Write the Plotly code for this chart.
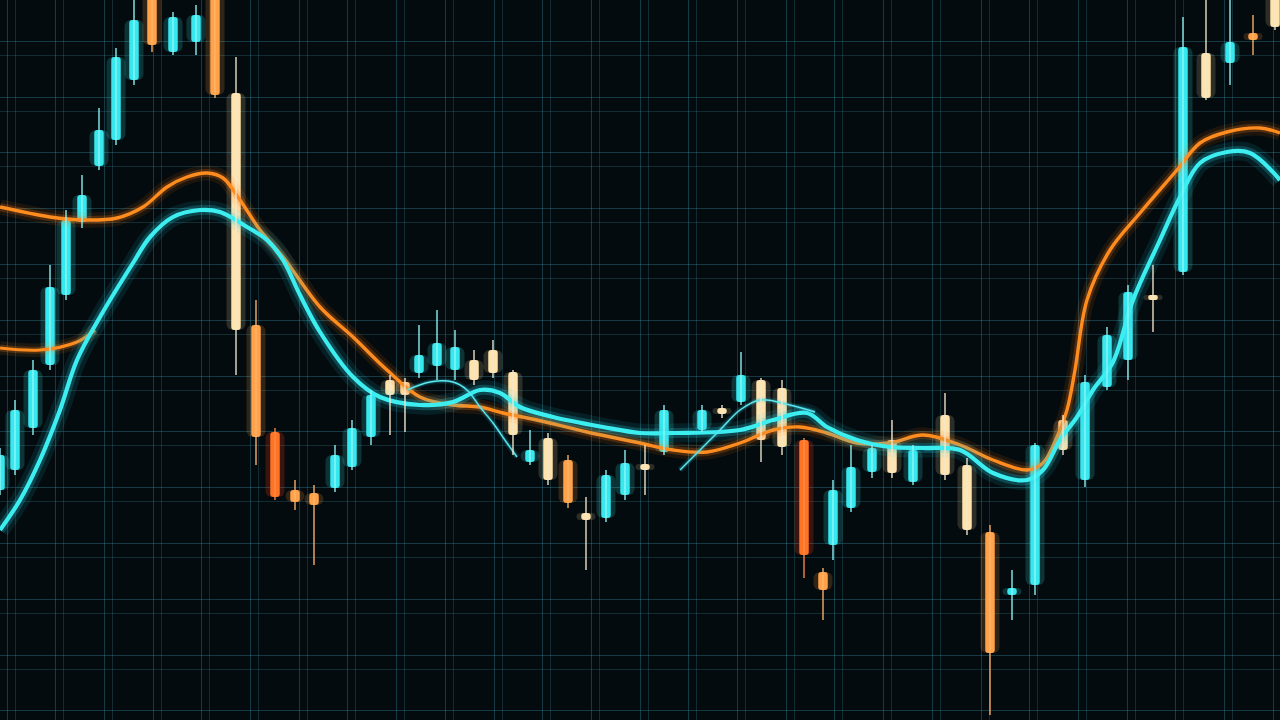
import plotly.graph_objects as go

# ---- candle data (time, open, high, low, close, tone) ----
t = [0.0, 1.5, 3.3, 5.0, 6.6, 8.2, 9.9, 11.6, 13.4, 15.2, 17.3, 19.6, 21.5, 23.6, 25.6, 27.5,
     29.5, 31.4, 33.5, 35.2, 37.1, 39.0, 40.5, 41.9, 43.7, 45.5, 47.4, 49.3, 51.3, 53.0, 54.8,
     56.8, 58.6, 60.6, 62.5, 64.5, 66.4, 70.2, 72.2, 74.1, 76.1, 78.2, 80.4, 82.3, 83.3, 85.1,
     87.2, 89.2, 91.3, 94.5, 96.7, 99.0, 101.2, 103.5, 106.3, 108.5, 110.7, 112.8, 115.3, 118.3,
     120.6, 123.0, 125.3, 127.5]
open_ = [123.0, 125.0, 129.2, 135.5, 142.5, 149.8, 155.4, 158.0, 164.0, 173.0, 166.8, 167.8, 173.0, 162.7, 139.5, 128.8,
         123.0, 122.7, 123.2, 125.3, 128.3, 134.0, 133.8, 134.7, 135.4, 135.0, 136.0, 137.0, 134.8, 125.8, 128.2,
         126.0, 120.7, 120.2, 122.5, 125.6, 126.8, 129.0, 131.2, 131.8, 134.0, 133.2, 128.0, 114.8, 117.5, 121.2,
         124.8, 128.0, 123.8, 130.5, 125.5, 118.8, 112.5, 113.5, 130.0, 124.0, 133.3, 136.0, 142.5, 144.8,
         166.7, 165.7, 168.7, 173.0]
high = [127.2, 132.0, 136.0, 145.5, 151.0, 154.5, 161.2, 167.2, 172.0, 173.5, 170.8, 171.5, 173.5, 166.3, 142.0, 129.2,
        124.0, 123.5, 127.5, 130.0, 133.0, 134.5, 134.2, 139.5, 141.0, 139.0, 137.0, 138.0, 135.0, 129.0, 128.7,
        126.5, 122.3, 125.0, 127.0, 127.5, 131.5, 131.5, 131.5, 136.8, 134.2, 134.0, 128.2, 115.2, 124.0, 127.5,
        127.5, 130.0, 127.5, 132.7, 126.2, 119.5, 115.0, 127.7, 130.5, 134.5, 139.3, 143.5, 145.5, 170.3,
        172.5, 172.5, 170.5, 173.5]
low = [122.5, 124.5, 128.5, 135.0, 142.0, 149.2, 155.0, 157.5, 163.5, 166.8, 166.5, 166.5, 162.2, 134.5, 125.5, 122.0,
       121.0, 115.5, 122.8, 125.0, 127.5, 128.5, 128.8, 134.2, 134.0, 134.0, 133.5, 134.2, 126.5, 125.5, 123.5,
       121.2, 115.0, 119.8, 122.0, 122.5, 126.5, 128.8, 130.2, 131.5, 125.8, 126.5, 114.2, 110.0, 116.0, 120.8,
       124.2, 124.2, 123.5, 124.0, 118.5, 100.5, 110.0, 112.5, 126.5, 123.3, 133.0, 134.0, 138.8, 144.5,
       162.0, 163.5, 166.5, 169.0]
close = [126.5, 131.0, 135.0, 143.3, 150.0, 152.5, 159.0, 166.3, 170.0, 167.5, 170.3, 170.5, 162.5, 139.0, 128.3, 122.3,
         121.8, 121.5, 126.5, 129.2, 132.5, 132.5, 132.5, 136.5, 137.7, 137.3, 134.0, 134.7, 128.5, 127.0, 124.0,
         121.7, 120.0, 124.5, 125.7, 125.0, 131.0, 131.0, 130.6, 134.5, 128.0, 127.3, 116.5, 113.0, 123.0, 125.3,
         127.2, 124.7, 127.0, 124.5, 119.0, 106.7, 113.2, 127.5, 127.0, 133.8, 138.5, 142.8, 142.0, 167.3,
         162.2, 167.8, 168.0, 169.3]
tone = ['c', 'c', 'c', 'c', 'c', 'c', 'c', 'c', 'c', 'o', 'c', 'c', 'o', 'w', 'o', 'r',
        'o', 'o', 'c', 'c', 'c', 'w', 'w', 'c', 'c', 'c', 'w', 'w', 'w', 'c', 'w',
        'o', 'w', 'c', 'c', 'w', 'c', 'c', 'w', 'c', 'w', 'w', 'r', 'o', 'c', 'c',
        'c', 'w', 'c', 'w', 'w', 'o', 'c', 'c', 'w', 'c', 'c', 'c', 'w', 'c',
        'w', 'c', 'o', 'w']

# ---- moving averages ----
ma_slow_t = [0.0, 5.0, 8.3, 11.7, 14.3, 16.7, 18.7, 20.7, 22.3, 24.0, 26.0, 28.3, 32.0, 35.3, 38.7, 42.0,
             45.3, 48.0, 50.3, 53.7, 58.7, 64.0, 67.3, 70.7, 74.0, 77.3, 80.0, 82.7, 85.7, 89.0, 92.3,
             96.0, 99.3, 102.7, 104.3, 105.7, 106.7, 107.5, 108.7, 111.0, 114.0, 117.7, 120.0, 122.7,
             126.0, 128.0]
ma_slow = [151.3, 150.3, 150.0, 150.2, 151.3, 153.3, 154.3, 154.7, 154.2, 152.0, 149.0, 146.3, 141.3, 138.3,
           135.0, 132.3, 131.5, 131.3, 130.7, 130.0, 128.8, 127.7, 127.0, 126.8, 127.7, 129.0, 129.3, 128.7,
           127.7, 127.7, 128.5, 127.5, 126.0, 125.0, 125.7, 128.3, 131.0, 135.0, 142.0, 147.0, 150.7, 155.0,
           157.7, 158.8, 159.2, 158.7]
ma_fast_t = [0.0, 2.0, 4.0, 6.0, 7.7, 10.0, 13.3, 15.0, 17.3, 20.0, 22.0, 24.7, 26.7, 28.3, 30.0, 32.0,
             35.3, 38.0, 42.0, 45.3, 48.0, 50.0, 52.0, 55.3, 60.3, 64.0, 67.3, 74.0, 77.3, 80.7, 82.7,
             85.7, 89.0, 92.3, 96.0, 99.3, 102.7, 104.3, 106.0, 107.7, 109.3, 111.3, 113.3, 116.0, 118.0,
             120.0, 122.7, 125.0, 128.0]
ma_fast = [119.0, 122.0, 126.0, 131.0, 136.0, 140.3, 145.7, 148.3, 150.3, 151.0, 150.8, 149.3, 148.0, 146.0,
           142.5, 138.8, 134.3, 132.3, 131.5, 131.8, 133.0, 132.7, 131.3, 130.3, 129.3, 128.7, 128.7, 129.0,
           130.0, 130.7, 129.3, 128.0, 127.3, 127.2, 127.0, 124.7, 124.0, 125.0, 128.0, 130.3, 133.0, 135.8,
           142.0, 148.0, 152.3, 155.7, 156.8, 156.7, 154.0]
ma_micro_t = [40.7, 43.0, 45.3, 46.7, 48.0, 49.3, 50.7, 51.7, None, 68.0, 70.0, 72.0, 74.0, 76.0, 79.0, 81.5]
ma_micro = [133.0, 133.8, 133.8, 133.0, 131.3, 129.7, 127.7, 126.3, None, 125.0, 127.0, 129.0, 131.0, 132.0,
            131.5, 130.8]
ma_long_t = [0.0, 4.0, 7.7, 9.5]
ma_long = [137.2, 137.0, 137.8, 139.0]

COL = {'c': '#38e8ef', 'o': '#ffa24a', 'r': '#ff7424', 'w': '#ffe3ad'}
WICK = {'c': '#8ff5f7', 'o': '#ffb36a', 'r': '#ff8a4a', 'w': '#f3e6cf'}
GLOW = {'c': 'rgba(56,232,239,0.18)', 'o': 'rgba(255,150,60,0.18)',
        'r': 'rgba(255,60,25,0.22)', 'w': 'rgba(255,225,170,0.16)'}

fig = go.Figure()

# moving average lines with glow
def add_line(xs, ys, color, glow, core_w):
    for w, op in [(core_w * 4.5, 0.10), (core_w * 2.4, 0.22)]:
        fig.add_trace(go.Scatter(x=xs, y=ys, mode='lines', line=dict(color=glow, width=w, shape='spline',
                                 smoothing=1.0), opacity=op, hoverinfo='skip', showlegend=False,
                                 connectgaps=False))
    fig.add_trace(go.Scatter(x=xs, y=ys, mode='lines', line=dict(color=color, width=core_w, shape='spline',
                             smoothing=1.0), hoverinfo='skip', showlegend=False, connectgaps=False))

add_line(ma_long_t, ma_long, '#ff8a1e', '#ff8a1e', 3.0)
add_line(ma_slow_t, ma_slow, '#ff8c1f', '#ff7a10', 3.4)
add_line(ma_fast_t, ma_fast, '#3ceef0', '#2ad8e8', 4.2)
add_line(ma_micro_t, ma_micro, '#5fe6ee', '#2ad8e8', 1.4)

# candles grouped by tone
for k in ['c', 'o', 'r', 'w']:
    idx = [i for i in range(len(t)) if tone[i] == k]
    wx, wy = [], []
    for i in idx:
        wx += [t[i], t[i], None]
        wy += [high[i], low[i], None]
    fig.add_trace(go.Scatter(x=wx, y=wy, mode='lines', line=dict(color=WICK[k], width=1.6),
                             opacity=0.85, hoverinfo='skip', showlegend=False))
    xs = [t[i] for i in idx]
    base = [min(open_[i], close[i]) for i in idx]
    hgt = [max(abs(close[i] - open_[i]), 0.5) for i in idx]
    fig.add_trace(go.Bar(x=xs, y=hgt, base=base, width=1.9,
                         marker=dict(color=GLOW[k], line=dict(width=0), cornerradius=6),
                         hoverinfo='skip', showlegend=False))
    fig.add_trace(go.Bar(x=xs, y=hgt, base=base, width=0.95,
                         marker=dict(color=COL[k], line=dict(width=0), cornerradius=3),
                         hoverinfo='skip', showlegend=False))

# invisible trace on secondary axes (second set of grid lines)
fig.add_trace(go.Scatter(x=[0], y=[100], xaxis='x2', yaxis='y2', mode='markers',
                         marker=dict(opacity=0), hoverinfo='skip', showlegend=False))

GRID = 'rgba(62,150,170,0.34)'
GRID2 = 'rgba(62,150,170,0.24)'
fig.update_layout(
    width=1280, height=720, margin=dict(l=0, r=0, t=0, b=0),
    paper_bgcolor='#02080a', plot_bgcolor='#030b0e',
    barmode='overlay', showlegend=False, hovermode=False,
    xaxis=dict(range=[0, 128], showgrid=True, gridcolor=GRID, gridwidth=1, tick0=0.7, dtick=4.87,
               showticklabels=False, zeroline=False, showline=False, ticks=''),
    yaxis=dict(range=[100, 172], showgrid=True, gridcolor=GRID, gridwidth=1, tick0=162.3, dtick=5.58,
               showticklabels=False, zeroline=False, showline=False, ticks=''),
    xaxis2=dict(overlaying='x', matches='x', showgrid=True, gridcolor=GRID2, tick0=1.5, dtick=4.87,
                showticklabels=False, zeroline=False, showline=False, ticks=''),
    yaxis2=dict(overlaying='y', matches='y', showgrid=True, gridcolor=GRID2, tick0=160.9, dtick=5.58,
                showticklabels=False, zeroline=False, showline=False, ticks=''),
)

fig.write_html("out.html", config={'displayModeBar': False, 'staticPlot': True},
               post_script="document.body.style.margin='0';document.body.style.overflow='hidden';")
